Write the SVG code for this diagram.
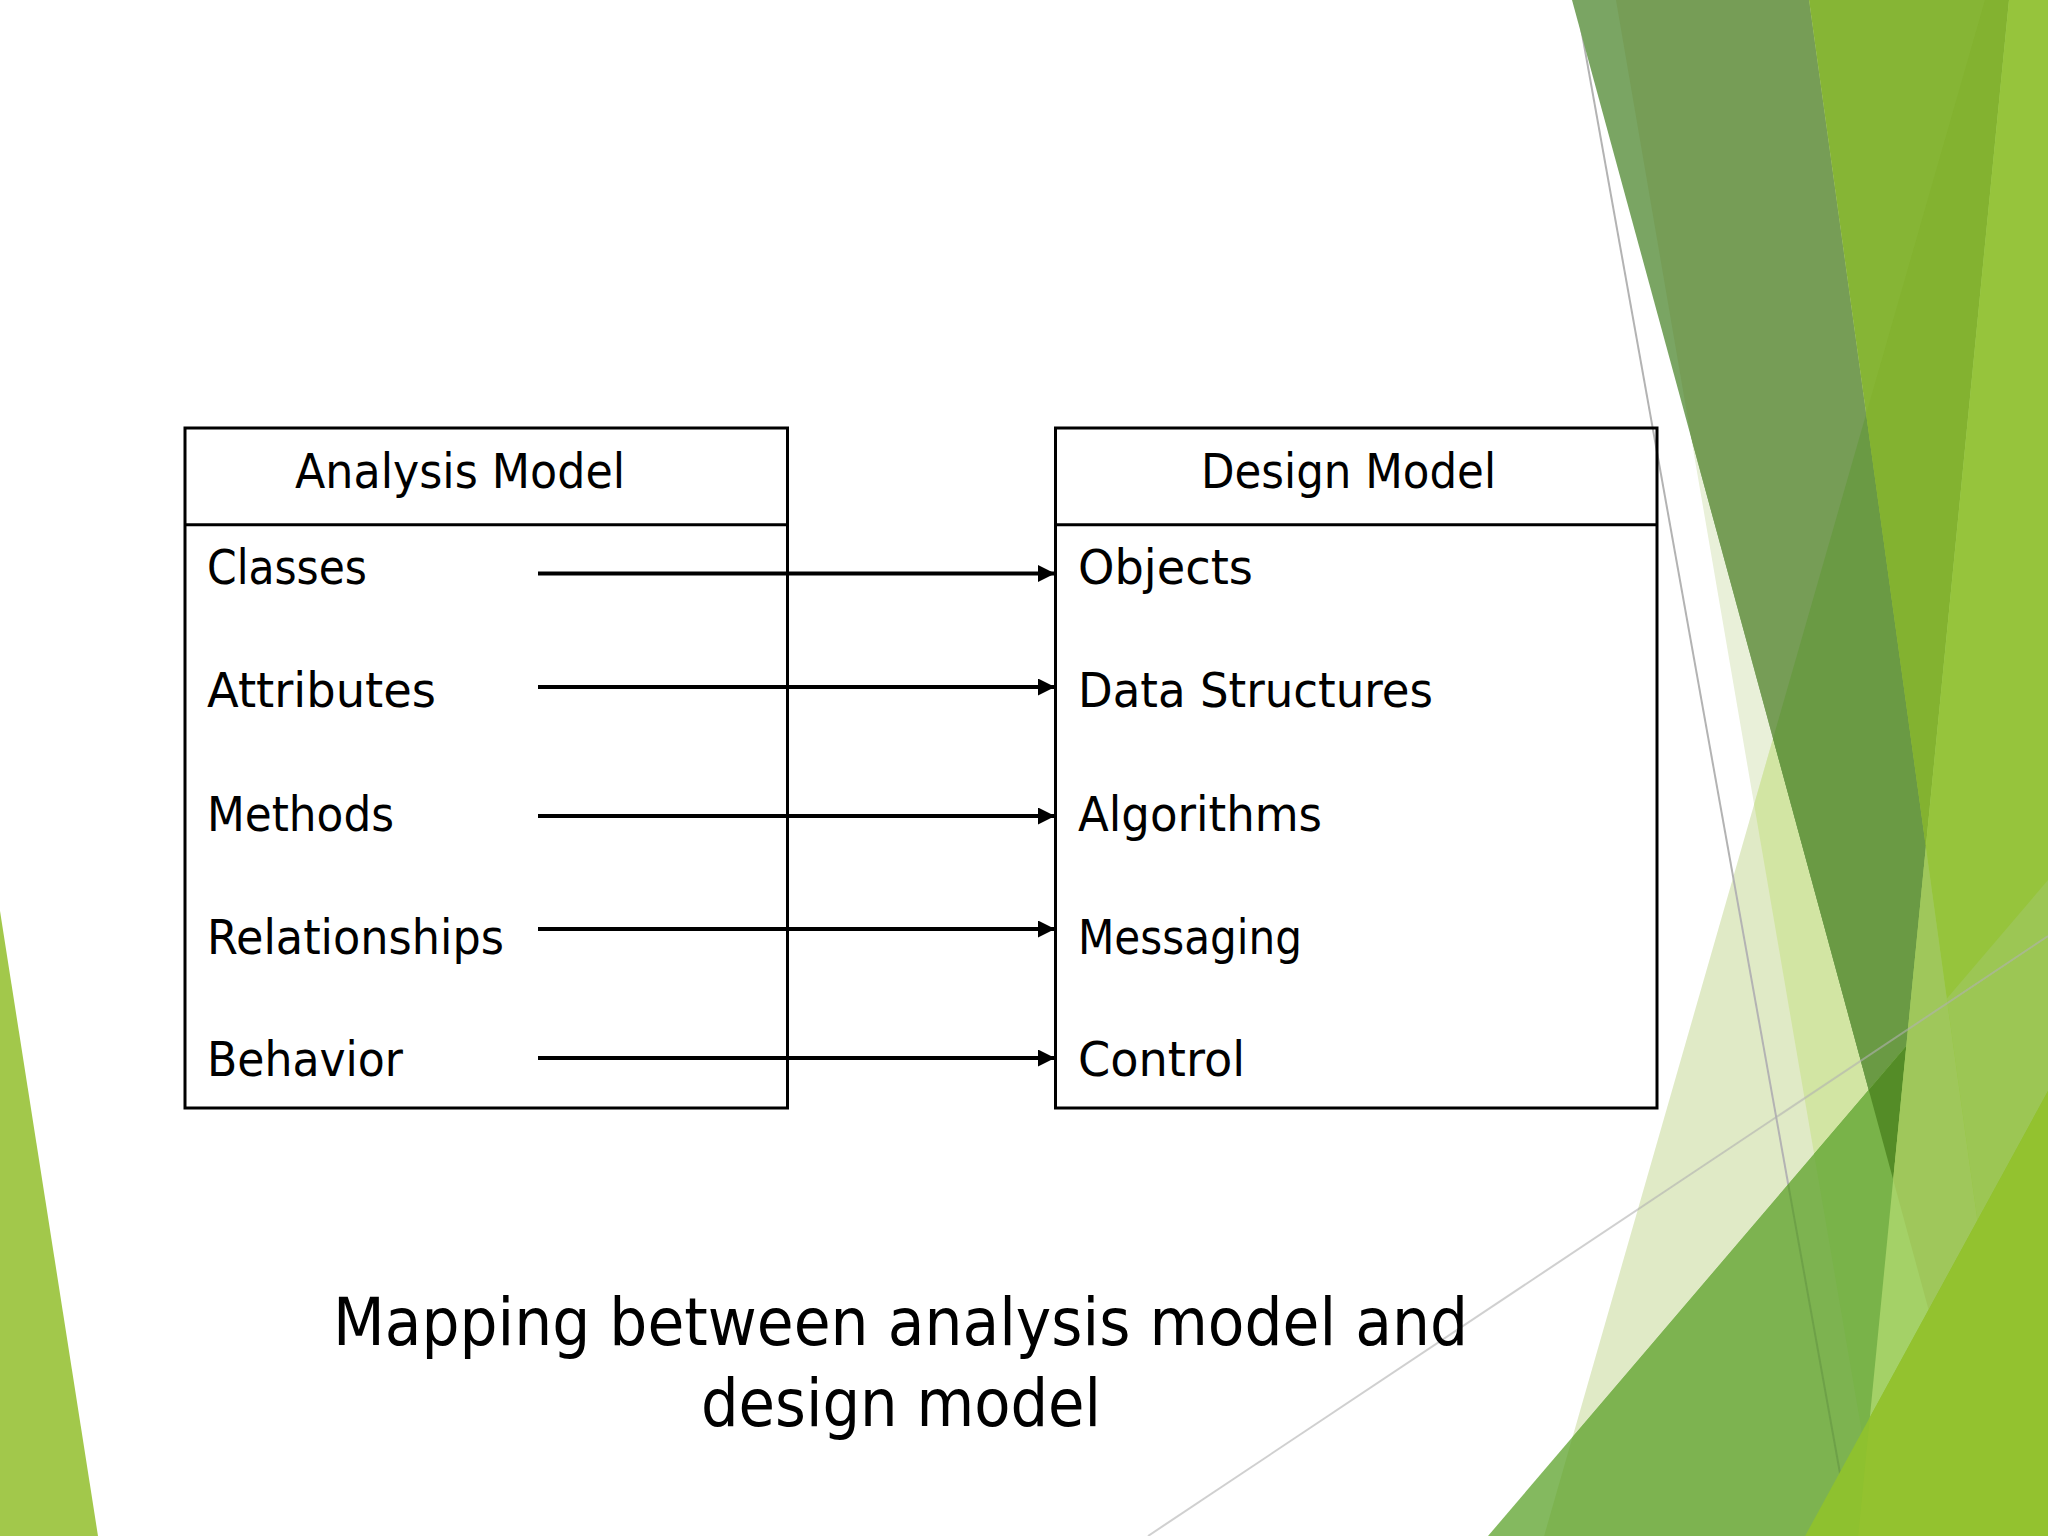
<svg xmlns="http://www.w3.org/2000/svg" width="2048" height="1536" viewBox="0 0 2048 1536">
<style>
.box{fill:none;stroke:#000;stroke-width:3}
.lbl{font-family:"DejaVu Sans","Liberation Sans",sans-serif;font-size:48px;fill:#000}
.ttl{font-family:"DejaVu Sans","Liberation Sans",sans-serif;font-size:66px;fill:#000}
.arr{stroke:#000;stroke-width:4;fill:none;marker-end:url(#ah)}
</style>
<defs>
<marker id="ah" markerUnits="userSpaceOnUse" markerWidth="17" markerHeight="17" refX="17" refY="8.5" orient="auto">
<path d="M0,0 L17,8.5 L0,17 z" fill="#000"/>
</marker>
<polygon id="sP" points="1985,0 2060,0 2060,1540 1543,1540"/>
<polygon id="sQ" points="1616,0 2060,0 2060,1540 1880.4,1540"/>
<polygon id="sA" points="1572,0 1809,0 2021.5,1540 1991.3,1540"/>
<polygon id="sB" points="1809,0 2060,0 2060,1540 2021.5,1540"/>
<polygon id="sR" points="2009,0 2060,0 2060,1540 1857.8,1540"/>
<polygon id="sM" points="1484.6,1540 2060,866 2060,1540"/>
<polygon id="sG" points="1802.9,1540 2060,1069 2060,1540"/>
<clipPath id="cP"><use href="#sP"/></clipPath>
<clipPath id="cQ"><use href="#sQ"/></clipPath>
<clipPath id="cA"><use href="#sA"/></clipPath>
<clipPath id="cB"><use href="#sB"/></clipPath>
<clipPath id="cR"><use href="#sR"/></clipPath>
<clipPath id="cM"><use href="#sM"/></clipPath>
</defs>
<rect width="2048" height="1536" fill="#fff"/>
<g id="background">
<polygon points="0,911 98,1536 0,1536" fill="#a2c84b"/>
<use href="#sQ" fill="#e9f0d9"/>
<use href="#sP" fill="#e0eac6"/>
<g clip-path="url(#cQ)"><use href="#sP" fill="#d2e5a3"/></g>
<line x1="1576" y1="0" x2="1843" y2="1490" stroke="#b3b3b3" stroke-width="2"/>
<use href="#sA" fill="#7aa563"/>
<g clip-path="url(#cQ)"><use href="#sA" fill="#769d56"/></g>
<g clip-path="url(#cP)"><use href="#sA" fill="#6a9a44"/></g>
<use href="#sB" fill="#86b535"/>
<g clip-path="url(#cP)"><use href="#sB" fill="#83b230"/></g>
<use href="#sM" fill="#84b95f"/>
<g clip-path="url(#cP)"><use href="#sM" fill="#7db350"/></g>
<g clip-path="url(#cP)"><g clip-path="url(#cQ)"><use href="#sM" fill="#79b349"/></g></g>
<g clip-path="url(#cA)"><use href="#sM" fill="#548c27"/></g>
<g clip-path="url(#cM)"><line x1="1576" y1="0" x2="1843" y2="1490" stroke="#5f8f40" stroke-opacity="0.5" stroke-width="2"/></g>
<use href="#sR" fill="#a4d167"/>
<g clip-path="url(#cA)"><use href="#sR" fill="#9fc75b"/></g>
<g clip-path="url(#cB)"><use href="#sR" fill="#96c43c"/></g>
<g clip-path="url(#cB)"><g clip-path="url(#cM)"><use href="#sR" fill="#9cc654"/></g></g>
<use href="#sG" fill="#8ec12f"/>
<g clip-path="url(#cR)"><use href="#sG" fill="#93c22f"/></g>
<line x1="1148" y1="1536" x2="2048" y2="936" stroke="#b0b0b0" stroke-opacity="0.6" stroke-width="2"/>
</g>
<g id="connectors">
<line class="arr" x1="538" y1="573.5" x2="1055" y2="573.5"/>
<line class="arr" x1="538" y1="687" x2="1055" y2="687"/>
<line class="arr" x1="538" y1="816" x2="1055" y2="816"/>
<line class="arr" x1="538" y1="929" x2="1055" y2="929"/>
<line class="arr" x1="538" y1="1058" x2="1055" y2="1058"/>
</g>
<g id="analysis-model">
<rect class="box" x="185" y="428" width="602.5" height="680"/>
<line class="box" x1="185" y1="524.7" x2="787.5" y2="524.7"/>
<text class="lbl" x="295" y="488" textLength="330" lengthAdjust="spacingAndGlyphs">Analysis Model</text>
<text class="lbl" x="207" y="584" textLength="160" lengthAdjust="spacingAndGlyphs">Classes</text>
<text class="lbl" x="207" y="707" textLength="229" lengthAdjust="spacingAndGlyphs">Attributes</text>
<text class="lbl" x="207" y="830.5" textLength="187" lengthAdjust="spacingAndGlyphs">Methods</text>
<text class="lbl" x="207" y="953.5" textLength="297" lengthAdjust="spacingAndGlyphs">Relationships</text>
<text class="lbl" x="207" y="1076" textLength="196" lengthAdjust="spacingAndGlyphs">Behavior</text>
</g>
<g id="design-model">
<rect class="box" x="1055.5" y="428" width="601.5" height="680"/>
<line class="box" x1="1055.5" y1="524.7" x2="1657" y2="524.7"/>
<text class="lbl" x="1201" y="488" textLength="295" lengthAdjust="spacingAndGlyphs">Design Model</text>
<text class="lbl" x="1078" y="584" textLength="175" lengthAdjust="spacingAndGlyphs">Objects</text>
<text class="lbl" x="1078" y="707" textLength="355" lengthAdjust="spacingAndGlyphs">Data Structures</text>
<text class="lbl" x="1078" y="830.5" textLength="244" lengthAdjust="spacingAndGlyphs">Algorithms</text>
<text class="lbl" x="1078" y="953.5" textLength="224" lengthAdjust="spacingAndGlyphs">Messaging</text>
<text class="lbl" x="1078" y="1076" textLength="167" lengthAdjust="spacingAndGlyphs">Control</text>
</g>
<g id="caption">
<text class="ttl" x="333" y="1345" textLength="1135" lengthAdjust="spacingAndGlyphs">Mapping between analysis model and</text>
<text class="ttl" x="701" y="1426" textLength="400" lengthAdjust="spacingAndGlyphs">design model</text>
</g>
</svg>
